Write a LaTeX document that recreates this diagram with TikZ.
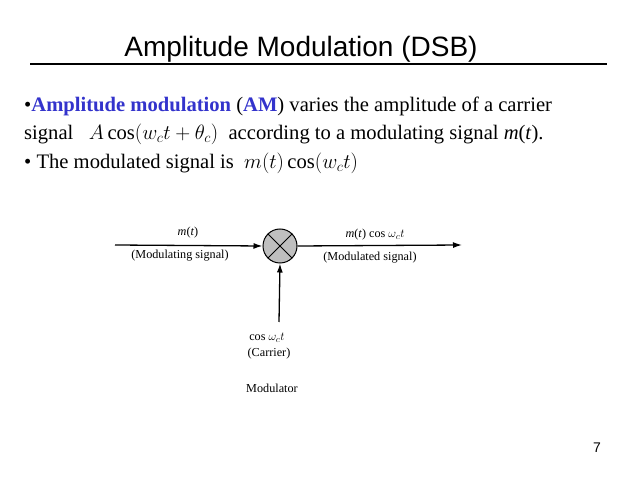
\documentclass[tikz,border=0pt]{standalone}
\usepackage{fontspec}
\setmainfont{Liberation Serif}
\setsansfont{Liberation Sans}
\usetikzlibrary{arrows.meta}
\definecolor{amblue}{RGB}{51,51,204}
\begin{document}
\begin{tikzpicture}[x=1pt,y=-1pt,
  lbl/.style={font=\fontsize{12.2}{14}\selectfont,inner sep=0pt},
  sig/.style={line width=1.3pt,-{Latex[length=9pt,width=6pt]}}]
\useasboundingbox (0,0) rectangle (638,478);
\fill[white] (0,0) rectangle (638,478);
\node[font=\sffamily\fontsize{28}{32}\selectfont] (title) at (301,49) {Amplitude Modulation (DSB)};
\draw[line width=1.8pt] (30,64) -- (607,64);
\node[anchor=west,inner sep=0pt,font=\fontsize{20.6}{24}\selectfont] (l1) at (24,106) {•\textcolor{amblue}{\textbf{Amplitude modulation}} (\textcolor{amblue}{\textbf{AM}}) varies the amplitude of a carrier};
\node[anchor=west,inner sep=0pt,font=\fontsize{20.6}{24}\selectfont] (l2) at (24,134) {signal \ \ $A\cos(w_c t+\theta_c)$\ \ according to a modulating signal \textit{m}(\textit{t}).};
\node[anchor=west,inner sep=0pt,font=\fontsize{20.6}{24}\selectfont] (l3) at (24,163) {• The modulated signal is \ $m(t)\cos(w_c t)$};
\node[circle,draw,line width=1pt,fill=gray!50,minimum size=34pt,inner sep=0pt] (mix) at (280,246) {};
\draw[line width=1pt] (mix.north west) -- (mix.south east) (mix.north east) -- (mix.south west);
\coordinate (in) at (115,245);
\coordinate (out) at (462,245);
\coordinate (car) at (279,322);
\draw[sig] (in) -- (mix.west);
\draw[sig] (mix.east) -- (out);
\draw[sig] (car) -- (mix.south);
\node[lbl] (m1) at (188,233) {\textit{m}(\textit{t})};
\node[lbl] (m2) at (180,256) {(Modulating signal)};
\node[lbl] (o1) at (375,235) {\textit{m}(\textit{t}) cos $\omega_c t$};
\node[lbl] (o2) at (370,258) {(Modulated signal)};
\node[lbl] (c1) at (267,338) {cos $\omega_c t$};
\node[lbl] (c2) at (269,354) {(Carrier)};
\node[lbl] (mod) at (272,388) {Modulator};
\node[font=\sffamily\fontsize{14}{16}\selectfont] (pg) at (597,448) {7};
\end{tikzpicture}
\end{document}
